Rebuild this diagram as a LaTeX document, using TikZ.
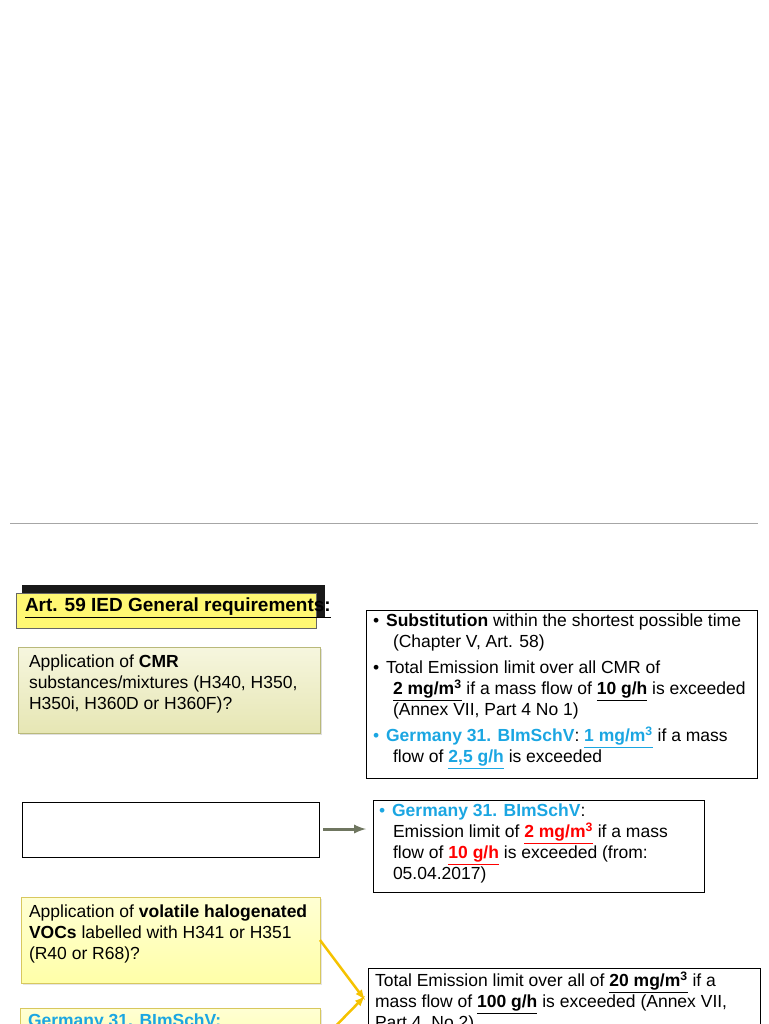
\documentclass[tikz,border=0pt]{standalone}
\usepackage{fontspec}
\setmainfont{Liberation Sans}
\usetikzlibrary{shadows}
\definecolor{cmrfill}{HTML}{E6E6B4}
\definecolor{cmrtop}{HTML}{F6F6DE}
\definecolor{cmrline}{HTML}{B9B97A}
\definecolor{vocfill}{HTML}{FFFFA8}
\definecolor{vocline}{HTML}{D8C85E}
\definecolor{bimcyan}{HTML}{1BA6E2}
\definecolor{arrgray}{HTML}{6F7660}
\definecolor{arryellow}{HTML}{F5C200}
\newcommand{\ulc}[2]{{\color{#1}\underline{\textcolor{#1}{#2}}}}
\begin{document}
\begin{tikzpicture}[x=1pt,y=-1pt,
    every node/.style={inner sep=0pt, outer sep=0pt},
    txt/.style={anchor=north west, align=left, font=\fontsize{17.5}{21}\selectfont},
    question/.style={draw=cmrline, top color=cmrtop, bottom color=cmrfill, drop shadow={shadow xshift=2pt, shadow yshift=-2pt, fill=black!25}},
    vocq/.style={draw=vocline, top color=vocfill!50, bottom color=vocfill, drop shadow={shadow xshift=2pt, shadow yshift=-2pt, fill=black!20}},
    infobox/.style={draw=black, thick}]
  \clip (0,0) rectangle (768,1024);
  \useasboundingbox (0,0) rectangle (768,1024);
  \draw [black!35, thick] (10,523) -- (758,523);
  % title
  \fill [black!90] (22,585) rectangle (325,617);
  \draw [draw=black!60, fill=yellow!55] (16,593) rectangle (316,628);
  \node (title) [txt, font=\fontsize{19}{21}\selectfont\bfseries] at (25,598) {\underline{Art. 59 IED General requirements:}};
  % CMR question
  \draw [question] (18,647) rectangle (320,733);
  \node (cmr) [txt] at (29,655) {Application of \textbf{CMR}\\substances/mixtures (H340, H350,\\H350i, H360D or H360F)?};
  % box 1
  \draw [infobox] (366,610) rectangle (757,778);
  \node (sub) [txt] at (373,614) {%
    \textbullet\hspace{7pt}\textbf{Substitution} within the shortest possible time\\
    \hspace*{20pt}(Chapter V, Art. 58)\\[5pt]
    \textbullet\hspace{7pt}Total Emission limit over all CMR of\\
    \hspace*{20pt}\textbf{\underline{2 mg/m\textsuperscript{3}}} if a mass flow of \textbf{\underline{10 g/h}} is exceeded\\
    \hspace*{20pt}(Annex VII, Part 4 No 1)\\[5pt]
    {\color{bimcyan}\textbullet\hspace{7pt}\textbf{Germany 31. BImSchV}}: \textbf{\ulc{bimcyan}{1 mg/m\textsuperscript{3}}} if a mass\\
    \hspace*{20pt}flow of \textbf{\ulc{bimcyan}{2,5 g/h}} is exceeded};
  % empty box and box 2
  \draw [infobox] (22,802) rectangle (319,857);
  \coordinate (empty) at (319,829);
  \draw [infobox] (373,800) rectangle (704,892);
  \coordinate (de) at (373,829);
  \node (germ) [txt] at (379,804) {%
    {\color{bimcyan}\textbullet\hspace{7pt}\textbf{Germany 31. BImSchV}}:\\
    \hspace*{14pt}Emission limit of \textbf{\ulc{red}{2 mg/m\textsuperscript{3}}} if a mass\\
    \hspace*{14pt}flow of \textbf{\ulc{red}{10 g/h}} is exceeded (from:\\
    \hspace*{14pt}05.04.2017)};
  \draw [arrgray, line width=3pt, -latex] ([xshift=4pt]empty) -- ([xshift=-7pt]de);
  % VOC question
  \draw [vocq] (21,897) rectangle (320,983);
  \coordinate (vocout) at (320,940);
  \node (voc) [txt] at (29,905) {Application of \textbf{volatile halogenated}\\\textbf{VOCs} labelled with H341 or H351\\(R40 or R68)?};
  \draw [vocq] (20,1008) rectangle (320,1060);
  \coordinate (bimout) at (322,1040);
  \node (bim) [txt] at (28,1014) {\textbf{\color{bimcyan}Germany 31. BImSchV:}};
  % total box
  \draw [infobox] (368,968) rectangle (760,1060);
  \coordinate (tot) at (368,1000);
  \node (total) [txt] at (375,972) {Total Emission limit over all of \textbf{\underline{20 mg/m\textsuperscript{3}}} if a\\mass flow of \textbf{\underline{100 g/h}} is exceeded (Annex VII,\\Part 4, No 2)};
  \draw [arryellow, line width=2.5pt, -latex] (vocout) -- ([xshift=-3pt]tot);
  \draw [arryellow, line width=2.5pt, -latex] (bimout) -- ([xshift=-3pt,yshift=4pt]tot);
\end{tikzpicture}
\end{document}
